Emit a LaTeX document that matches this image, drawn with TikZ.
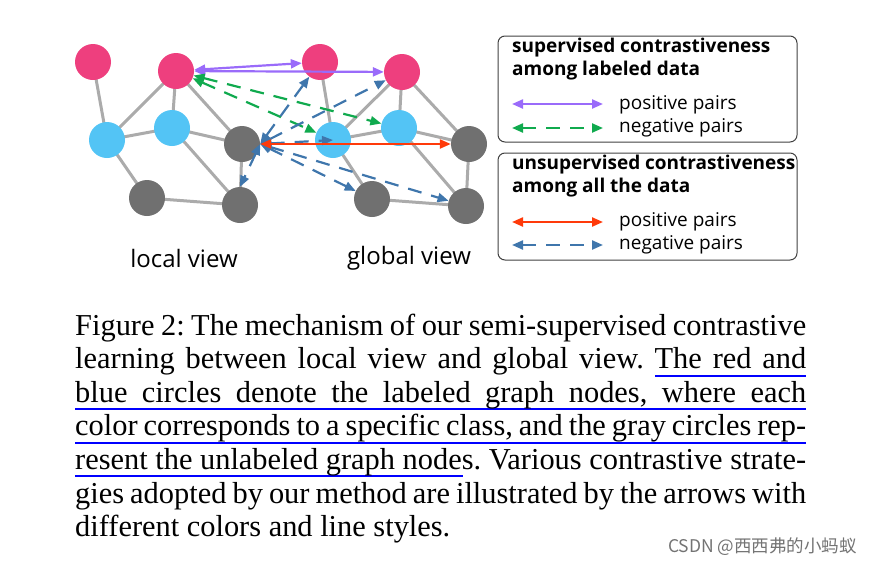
\documentclass[tikz,border=0pt]{standalone}
\usepackage{fontspec}
\setmainfont{Liberation Serif}
\newfontfamily\lgfont{Open Sans}
\newfontfamily\cjk{Noto Sans CJK SC}
\usetikzlibrary{arrows.meta}
\definecolor{pk}{HTML}{EE3F7E}
\definecolor{bl}{HTML}{53C4F5}
\definecolor{gy}{HTML}{707070}
\definecolor{ed}{HTML}{ABABAB}
\definecolor{pu}{HTML}{9A6BFA}
\definecolor{gn}{HTML}{10AA4E}
\definecolor{rd}{HTML}{FF3A0A}
\definecolor{db}{HTML}{3F76AC}
\tikzset{
 nd/.style={circle,minimum size=36pt,inner sep=0pt},
 pkn/.style={nd,fill=pk},
 bln/.style={nd,fill=bl},
 gyn/.style={nd,fill=gy},
 ge/.style={ed,line width=3pt},
 ar/.style={line width=2.2pt,{Triangle[length=11pt,width=9pt]}-{Triangle[length=11pt,width=9pt]}},
 dsh/.style={dash pattern=on 14pt off 10pt},
 lgbox/.style={draw=black!75,line width=1pt,rounded corners=7pt},
 lg/.style={font=\lgfont\fontsize{19pt}{20pt}\selectfont,anchor=west,inner sep=0pt},
 lgh/.style={font=\lgfont\bfseries\fontsize{19pt}{23pt}\selectfont,anchor=north west,inner sep=0pt,align=left},
 captxt/.style={anchor=base west,inner sep=0pt,font=\frenchspacing\fontsize{30.4pt}{33pt}\selectfont},
 ul/.style={blue,line width=2.2pt}
}
\begin{document}
\begin{tikzpicture}[x=1pt,y=-1pt]
\useasboundingbox (0,0) rectangle (872,565);
\foreach \p/\c [count=\i] in {93/62,176/71,107/140,172/128,242/144,147/198,240/205}{\coordinate (Lc\i) at (\p,\c);}
\foreach \p/\c [count=\i] in {320/62,402/72,333/140,399/128,469/144,372/199,466/206}{\coordinate (Rc\i) at (\p,\c);}
\foreach \s in {L,R}{
 \foreach \a/\b in {1/3,3/2,3/4,3/6,2/4,2/5,4/5,4/7,6/7,7/5}{\draw[ge] (\s c\a)--(\s c\b);}
 \node[pkn] (\s1) at (\s c1) {};
 \node[pkn] (\s2) at (\s c2) {};
 \node[bln] (\s3) at (\s c3) {};
 \node[bln] (\s4) at (\s c4) {};
 \node[gyn] (\s5) at (\s c5) {};
 \node[gyn] (\s6) at (\s c6) {};
 \node[gyn] (\s7) at (\s c7) {};
}
\draw[ar,pu] (L2)--(R1);
\draw[ar,pu] (L2)--(R2);
\draw[ar,gn,dsh] (L2)--(R3);
\draw[ar,gn,dsh] (L2)--(R4);
\draw[ar,db,dsh] (L5.east)--(R1);
\draw[ar,db,dsh] (L5.east)--(R2);
\draw[ar,db,dsh] (L5.east)--(R3.center);
\draw[ar,db,dsh] (L5.east)--(R6);
\draw[ar,db,dsh] (L5.east)--(R7);
\draw[ar,db,dsh] (L5.east)--(L7.north);
\draw[ar,rd] (L5.east)--(R5);
\node[font=\lgfont\fontsize{24pt}{26pt}\selectfont] (lv) at (184,258) {local view};
\node[font=\lgfont\fontsize{24pt}{26pt}\selectfont] (gv) at (409,258) {global view};
\draw[lgbox] (498,36) rectangle (797,142);
\node[lgh] (h1) at (512,38) {supervised contrastiveness\\among labeled data};
\coordinate (a1) at (512,104); \coordinate (b1) at (603,104);
\coordinate (a2) at (512,128); \coordinate (b2) at (603,128);
\draw[ar,pu] (a1)--(b1); \draw[ar,gn,dsh] (a2)--(b2);
\node[lg] (t1) at (619,105) {positive pairs};
\node[lg] (t2) at (619,128) {negative pairs};
\draw[lgbox] (498,153) rectangle (797,260);
\node[lgh] (h2) at (512,155) {unsupervised contrastiveness\\among all the data};
\coordinate (a3) at (512,222); \coordinate (b3) at (603,222);
\coordinate (a4) at (512,245); \coordinate (b4) at (603,245);
\draw[ar,rd] (a3)--(b3); \draw[ar,db,dsh] (a4)--(b4);
\node[lg] (t3) at (619,222) {positive pairs};
\node[lg] (t4) at (619,245) {negative pairs};
\coordinate (u2a) at (655,376); \coordinate (u2b) at (806,376);
\coordinate (u3a) at (75,409); \coordinate (u3b) at (806,409);
\coordinate (u4a) at (75,443); \coordinate (u4b) at (806,443);
\coordinate (u5a) at (75,476); \coordinate (u5b) at (463,476);
\foreach \i in {2,...,5}{\draw[ul] (u\i a)--(u\i b);}
\node[captxt] (c1) at (75,335) {\makebox[731pt][s]{Figure 2: The mechanism of our semi-supervised contrastive}};
\node[captxt] (c2) at (75,368.6) {\makebox[731pt][s]{learning between local view and global view. The red and}};
\node[captxt] (c3) at (75,402.2) {\makebox[731pt][s]{blue circles denote the labeled graph nodes, where each}};
\node[captxt] (c4) at (75,435.8) {\makebox[731pt][s]{color corresponds to a specific class, and the gray circles rep-}};
\node[captxt] (c5) at (75,469.4) {\makebox[731pt][s]{resent the unlabeled graph nodes. Various contrastive strate-}};
\node[captxt] (c6) at (75,503) {\makebox[731pt][s]{gies adopted by our method are illustrated by the arrows with}};
\node[captxt] (c7) at (75,536.6) {different colors and line styles.};
\node[anchor=base east,inner sep=0pt,font=\cjk\fontsize{17.5pt}{18pt}\selectfont,text=black!55] (wm) at (857,552) {CSDN @西西弗的小蚂蚁};
\end{tikzpicture}
\end{document}
